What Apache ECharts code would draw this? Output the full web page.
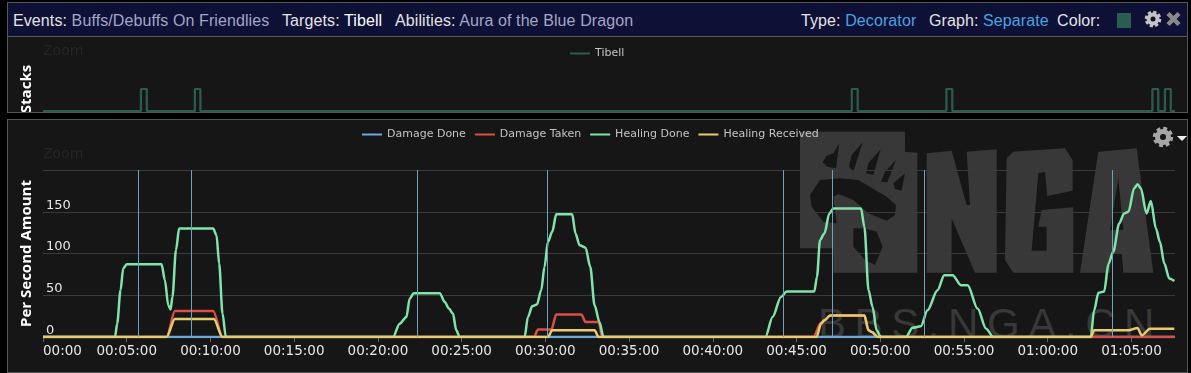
<!DOCTYPE html>
<html>
<head>
<meta charset="utf-8">
<title>Tibell</title>
<script src="https://cdn.jsdelivr.net/npm/echarts@6/dist/echarts.min.js"></script>
<style>
  html, body { margin: 0; padding: 0; background: #000; width: 1191px; height: 373px; overflow: hidden; }
  .panel { position: absolute; background: #161616; border: 1px solid #555; box-sizing: border-box; }
  #head { position: absolute; left: 8px; top: 3px; width: 1179px; height: 33px; background: #0f1036; border-bottom: 1px solid #555; }
  .h { position: absolute; top: 11px; font: 16px/20px "Liberation Sans", Arial, sans-serif; color: #e4e4e4; white-space: nowrap; letter-spacing: 0.1px; }
  .h i { font-style: normal; color: #a3a6c6; }
  .h b { font-weight: normal; color: #fff; }
  .h u { text-decoration: none; color: #4aa3e0; }
  #swatch { position: absolute; left: 1117px; top: 13px; width: 14px; height: 15px; background: #2b5c50; }
  #topWrap { position: absolute; left: 8px; top: 37px; width: 1179px; height: 75px; overflow: hidden; }
  #topChart { width: 1179px; height: 120px; }
  #wm, #icons { position: absolute; left: 0; top: 0; }
  #mainChart { position: absolute; left: 8px; top: 120px; width: 1179px; height: 252px; }
</style>
</head>
<body>
<div class="panel" style="left:7px;top:2px;width:1181px;height:111px"></div>
<div class="panel" style="left:7px;top:119px;width:1181px;height:254px"></div>

<!-- nga watermark, sits behind the transparent chart -->
<svg id="wm" width="1191" height="373">
  <g transform="translate(790,120) scale(0.3333)" fill="#383838">
    <polygon points="30,35 345,35 345,95 382,98 382,458 130,458 130,385 30,385"/>
    <polygon points="410,100 485,92 530,255 540,255 530,95 620,88 620,458 555,458 485,295 485,458 410,458"/>
    <polygon points="650,115 670,95 825,85 848,120 848,212 772,228 765,155 745,160 725,392 770,392 770,320 745,320 755,270 850,262 850,458 670,458 645,420"/>
    <path fill-rule="evenodd" d="M925,95 L1040,85 L1090,458 L1000,458 L995,400 L965,400 L960,458 L870,458 Z M985,175 L960,330 L1000,330 Z"/>
  </g>
  <g transform="translate(790,125) scale(0.3333)" fill="#161616">
    <polygon points="148,55 138,130 112,125 98,112 110,92 130,85"/>
    <polygon points="218,52 190,140 177,125 185,90"/>
    <polygon points="272,72 250,150 228,145 235,115"/>
    <polygon points="318,105 292,172 273,170 285,140"/>
    <polygon points="345,145 335,197 315,192 310,175"/>
    <polygon points="90,165 150,160 205,165 290,215 318,240 315,270 290,287 235,265 190,225 145,207 130,215 140,295 100,290 65,245 60,210"/>
    <polygon points="190,310 220,310 260,320 278,365 255,420 225,405 190,365"/>
  </g>
  <text x="818" y="338" font-family="Liberation Sans" font-size="42" letter-spacing="8.6" fill="#383838">BBS.NGA.CN</text>
</svg>

<div id="head"></div>
<span class="h" style="left:13px">Events: <i>Buffs/Debuffs On Friendlies</i></span>
<span class="h" style="left:282px">Targets: <b>Tibell</b></span>
<span class="h" style="left:395px">Abilities: <i>Aura of the Blue Dragon</i></span>
<span class="h" style="left:801px">Type: <u>Decorator</u></span>
<span class="h" style="left:929px">Graph: <u>Separate</u></span>
<span class="h" style="left:1057px">Color:</span>
<div id="swatch"></div>

<div id="topWrap"><div id="topChart"></div></div>
<div id="mainChart"></div>

<!-- gear, close and dropdown icons -->
<svg id="icons" width="1191" height="373" fill="none">
  <g stroke="#c4c4c4">
    <circle cx="1153" cy="19" r="4.5" stroke-width="4"/>
    <circle cx="1153" cy="19" r="6.8" stroke-width="3" stroke-dasharray="3.1 2.24"/>
  </g>
  <g stroke="#8a8a8a" stroke-width="4.5">
    <path d="M1168 13.5L1179 24.5M1179 13.5L1168 24.5"/>
  </g>
  <g stroke="#a6a6a6">
    <circle cx="1163" cy="137" r="5.5" stroke-width="5"/>
    <circle cx="1163" cy="137" r="8.5" stroke-width="3.4" stroke-dasharray="3.8 2.87"/>
  </g>
  <polygon points="1177,136 1187,136 1182,141" fill="#eee"/>
</svg>

<script>
// x values are minutes into the fight
const tickStep = 5
const axisEnd = 67.6
const perSecondTicks = [0, 50, 100, 150, 200]

const tibellStacks = [
  [0, 0], [5.85, 0], [5.85, 1], [6.2, 1], [6.2, 0],
  [9.07, 0], [9.07, 1], [9.4, 1], [9.4, 0],
  [48.3, 0], [48.3, 1], [48.65, 1], [48.65, 0],
  [53.95, 0], [53.95, 1], [54.3, 1], [54.3, 0],
  [66.25, 0], [66.25, 1], [66.6, 1], [66.6, 0],
  [67.0, 0], [67.0, 1], [67.35, 1], [67.35, 0],
  [axisEnd, 0]
]

const damageDone = [[0, 0], [axisEnd, 0]]

const damageTaken = [
  [0, 0], [7.38, 0], [7.88, 31], [10.16, 31], [10.72, 0],
  [29.32, 0], [29.56, 9], [30.36, 9], [30.65, 27], [32.15, 27], [32.4, 18], [33.18, 18], [33.4, 0],
  [46.0, 0], [46.46, 17], [46.66, 20], [47.0, 25.6], [49.05, 25.6], [49.3, 8], [49.5, 6], [49.84, 0],
  [axisEnd, 0]
]

const healingDone = [
  [0, 0], [4.3, 0], [4.43, 16], [4.63, 56], [4.79, 82], [5.0, 87], [7.08, 87], [7.28, 68], [7.48, 38], [7.62, 33],
  [7.73, 48], [7.94, 104], [8.13, 130], [10.16, 130], [10.36, 122], [10.52, 88], [10.72, 28], [10.92, 0],
  [20.9, 0], [21.3, 16], [21.7, 24], [21.9, 46], [22.14, 52.5], [23.69, 52.5], [23.99, 42], [24.24, 34], [24.48, 28], [24.68, 8], [24.88, 0],
  [28.76, 0], [28.96, 24], [29.22, 37], [29.5, 39], [29.75, 56], [29.95, 84], [30.15, 114], [30.41, 126], [30.65, 147],
  [31.6, 147], [31.8, 124], [32.04, 110], [32.4, 107], [32.68, 84], [32.94, 38], [33.23, 18], [33.47, 0],
  [43.14, 0], [43.57, 24], [44.07, 48], [44.41, 54.5], [46.06, 54.5], [46.22, 72], [46.4, 116], [46.66, 124], [46.96, 148], [47.2, 154],
  [48.85, 154], [49.05, 132], [49.3, 56], [49.54, 36], [49.78, 8], [50.04, 0],
  [51.53, 0], [51.93, 11], [52.43, 13], [52.82, 32], [53.42, 56], [53.82, 74], [54.32, 74], [54.82, 62], [55.22, 62], [55.81, 34], [56.32, 10], [56.75, 0],
  [62.57, 0], [62.77, 32], [63.03, 53], [63.37, 54.5], [63.63, 88], [63.91, 102], [64.27, 136], [64.56, 148], [64.82, 150],
  [65.16, 178], [65.36, 183], [65.56, 178], [65.9, 148], [66.16, 163], [66.46, 130], [66.7, 114], [66.96, 88], [67.26, 70], [67.56, 67]
]

const healingReceived = [
  [0, 0], [7.38, 0], [7.88, 21.6], [10.2, 21.6], [10.72, 0],
  [30.15, 0], [30.41, 8], [32.94, 8], [33.18, 0],
  [46.2, 0], [46.46, 16], [46.66, 20], [47.0, 25.6], [49.05, 25.6], [49.3, 8], [49.5, 6], [49.84, 0],
  [62.57, 0], [62.77, 8], [64.82, 8], [65.36, 10.8], [65.62, 2], [66.1, 10], [67.56, 10]
]

// the thin vertical markers
const eventLines = [5.7, 8.83, 22.33, 30.09, 44.19, 47.15, 52.61, 63.86]

const fmtTime = function(val) {
  if (val === 0) return '00:00'
  const h = Math.floor(val / 60)
  const m = val % 60
  return String(h).padStart(2, '0') + ':' + String(m).padStart(2, '0') + ':00'
}

const zoomTitle = { text: 'Zoom', left: 30, textStyle: { color: '#262626', fontSize: 14, fontWeight: 'normal', fontFamily: 'DejaVu Sans' } }
const legendText = { color: '#c4c4c4', fontSize: 11, fontFamily: 'DejaVu Sans' }

const topChart = echarts.init(document.getElementById('topChart'))
topChart.setOption({
  animation: false,
  title: Object.assign({}, zoomTitle, { top: 2 }),
  legend: {
    data: ['Tibell'], left: 557, top: 6, icon: 'rect', itemWidth: 20, itemHeight: 2, textStyle: legendText
  },
  grid: { left: 35, right: 12, top: 30, height: 44, outerBoundsMode: 'none' },
  xAxis: { type: 'value', min: 0, max: axisEnd, show: false },
  yAxis: {
    type: 'value', min: 0, max: 2, name: 'Stacks', nameLocation: 'middle', nameGap: 9,
    nameTextStyle: { color: '#fff', fontSize: 15, fontWeight: 'bold', fontFamily: 'Open Sans' },
    axisLabel: { show: false }, axisLine: { show: false }, axisTick: { show: false }, splitLine: { show: false }
  },
  series: [{
    name: 'Tibell', type: 'line', data: tibellStacks, showSymbol: false, clip: false,
    lineStyle: { color: '#2b5c50', width: 2.2 }, itemStyle: { color: '#2b5c50' }
  }]
})

const lineSeries = function(name, data, color, extra) {
  return Object.assign({
    name: name, type: 'line', data: data, showSymbol: false, smooth: 0.3, smoothMonotone: 'x',
    lineStyle: { color: color, width: 2.5 }, itemStyle: { color: color }
  }, extra)
}

const mainChart = echarts.init(document.getElementById('mainChart'))
mainChart.setOption({
  animation: false,
  title: Object.assign({}, zoomTitle, { top: 22 }),
  legend: {
    data: ['Damage Done', 'Damage Taken', 'Healing Done', 'Healing Received'],
    left: 349, top: 4, icon: 'rect', itemWidth: 20, itemHeight: 2, itemGap: 9, textStyle: legendText
  },
  grid: { left: 35, right: 12, top: 50, bottom: 35, outerBoundsMode: 'none' },
  xAxis: {
    type: 'value', min: 0, max: axisEnd, interval: tickStep,
    axisLine: { show: false },
    axisTick: { show: true, length: 5, lineStyle: { color: '#666' } },
    splitLine: { show: false },
    axisLabel: { formatter: fmtTime, color: '#e8e8e8', fontSize: 13.5, fontFamily: 'DejaVu Sans', margin: 7, alignMinLabel: 'left', showMaxLabel: false }
  },
  yAxis: {
    type: 'value', min: perSecondTicks[0], max: perSecondTicks[perSecondTicks.length - 1], interval: 50,
    name: 'Per Second Amount', nameLocation: 'middle', nameGap: 9,
    nameTextStyle: { color: '#fff', fontSize: 15, fontWeight: 'bold', fontFamily: 'Open Sans' },
    axisLine: { show: false }, axisTick: { show: false },
    splitLine: { lineStyle: { color: '#3a3a3a', width: 1 } },
    axisLabel: {
      inside: true, margin: 3, verticalAlign: 'bottom', color: '#e8e8e8', fontSize: 13, fontFamily: 'DejaVu Sans',
      formatter: function(v) { return v === 200 ? '' : v }
    }
  },
  series: [
    lineSeries('Damage Done', damageDone, '#6fa8dc', {
      markLine: {
        silent: true, symbol: 'none', label: { show: false },
        lineStyle: { color: '#6aa5bb', width: 1, type: 'solid' },
        data: eventLines.map(function(x) { return { xAxis: x } })
      }
    }),
    lineSeries('Damage Taken', damageTaken, '#dc4f48'),
    lineSeries('Healing Done', healingDone, '#80e4ab'),
    lineSeries('Healing Received', healingReceived, '#e8cb6c')
  ]
})
</script>
</body>
</html>
